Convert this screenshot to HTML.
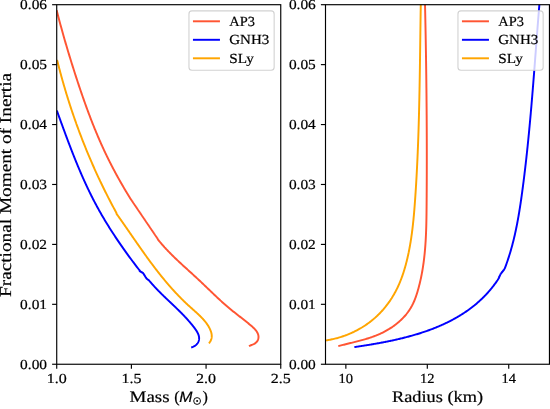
<!DOCTYPE html>
<html><head><meta charset="utf-8"><style>
html,body{margin:0;padding:0;background:#fff;}
svg{display:block;will-change:transform;}
text{fill:#000;text-rendering:geometricPrecision;stroke:#000;stroke-width:0.2px;}
</style></head><body>
<svg width="550" height="409" viewBox="0 0 550 409">
<rect x="0" y="0" width="550" height="409" fill="#ffffff"/>
<defs>
<clipPath id="cl"><rect x="56.72" y="4.7" width="224.03" height="359.55"/></clipPath>
<clipPath id="cr"><rect x="325.5" y="4.7" width="223.95000000000005" height="359.55"/></clipPath>
</defs>
<path d="M56.66,10.31 L56.91,11.30 L57.17,12.29 L57.42,13.28 L57.68,14.27 L57.94,15.26 L58.20,16.25 L58.46,17.24 L58.72,18.23 L58.98,19.22 L59.24,20.20 L59.50,21.19 L59.77,22.18 L60.04,23.17 L60.30,24.15 L60.57,25.14 L60.84,26.13 L61.11,27.11 L61.38,28.10 L61.65,29.09 L61.93,30.07 L62.20,31.06 L62.47,32.04 L62.75,33.03 L63.03,34.01 L63.30,35.00 L63.58,35.98 L63.86,36.97 L64.14,37.95 L64.43,38.94 L64.71,39.92 L64.99,40.90 L65.28,41.89 L65.56,42.87 L65.85,43.85 L66.14,44.83 L66.43,45.81 L66.72,46.80 L67.01,47.78 L67.30,48.76 L67.59,49.74 L67.88,50.72 L68.18,51.70 L68.47,52.68 L68.77,53.66 L69.06,54.64 L69.36,55.62 L69.66,56.60 L69.96,57.58 L70.26,58.56 L70.56,59.54 L70.86,60.51 L71.17,61.49 L71.47,62.47 L71.77,63.45 L72.08,64.42 L72.39,65.40 L72.69,66.38 L73.00,67.35 L73.31,68.33 L73.62,69.31 L73.93,70.28 L74.24,71.26 L74.56,72.23 L74.87,73.21 L75.18,74.18 L75.50,75.15 L75.81,76.13 L76.13,77.10 L76.45,78.07 L76.76,79.05 L77.08,80.02 L77.40,80.99 L77.72,81.96 L78.04,82.94 L78.37,83.91 L78.69,84.88 L79.01,85.85 L79.34,86.82 L79.66,87.79 L79.99,88.76 L80.32,89.73 L80.65,90.70 L80.98,91.66 L81.31,92.63 L81.64,93.60 L81.97,94.57 L82.31,95.53 L82.64,96.50 L82.98,97.47 L83.32,98.43 L83.65,99.40 L83.99,100.36 L84.33,101.32 L84.68,102.29 L85.02,103.25 L85.36,104.21 L85.71,105.18 L86.06,106.14 L86.41,107.10 L86.76,108.06 L87.11,109.02 L87.46,109.98 L87.81,110.94 L88.17,111.89 L88.53,112.85 L88.88,113.81 L89.24,114.76 L89.61,115.72 L89.97,116.67 L90.33,117.63 L90.70,118.58 L91.07,119.53 L91.44,120.49 L91.81,121.44 L92.18,122.39 L92.55,123.34 L92.93,124.29 L93.31,125.24 L93.69,126.18 L94.07,127.13 L94.45,128.08 L94.83,129.02 L95.22,129.97 L95.61,130.91 L96.00,131.86 L96.39,132.80 L96.78,133.74 L97.18,134.68 L97.58,135.62 L97.98,136.56 L98.38,137.50 L98.78,138.44 L99.19,139.37 L99.60,140.31 L100.01,141.25 L100.42,142.18 L100.83,143.11 L101.25,144.04 L101.67,144.98 L102.09,145.91 L102.51,146.84 L102.93,147.76 L103.36,148.69 L103.79,149.62 L104.22,150.54 L104.66,151.47 L105.09,152.39 L105.53,153.31 L105.97,154.24 L106.41,155.16 L106.86,156.08 L107.31,157.00 L107.76,157.91 L108.21,158.83 L108.66,159.75 L109.12,160.66 L109.58,161.57 L110.04,162.49 L110.50,163.40 L110.96,164.31 L111.43,165.22 L111.90,166.13 L112.37,167.03 L112.84,167.94 L113.32,168.85 L113.80,169.75 L114.28,170.66 L114.76,171.56 L115.24,172.46 L115.73,173.36 L116.22,174.26 L116.71,175.16 L117.20,176.06 L117.69,176.95 L118.19,177.85 L118.69,178.74 L119.19,179.63 L119.69,180.53 L120.20,181.42 L120.70,182.31 L121.21,183.20 L121.72,184.09 L122.23,184.97 L122.75,185.86 L123.26,186.74 L123.78,187.63 L124.30,188.51 L124.82,189.39 L125.35,190.27 L125.87,191.15 L126.40,192.03 L126.93,192.91 L127.46,193.79 L128.00,194.66 L128.53,195.54 L129.07,196.41 L129.61,197.28 L130.15,198.16 L130.69,199.03 L130.84,199.20 L130.97,199.40 L131.11,199.60 L131.24,199.80 L131.38,200.00 L131.51,200.20 L131.65,200.40 L131.79,200.60 L131.92,200.80 L132.06,201.00 L132.19,201.20 L132.33,201.40 L132.46,201.60 L132.60,201.80 L132.74,202.00 L132.87,202.20 L133.01,202.40 L133.14,202.60 L133.28,202.80 L133.41,203.00 L133.55,203.20 L133.68,203.40 L133.82,203.60 L133.96,203.80 L134.09,204.00 L134.23,204.20 L134.36,204.40 L134.50,204.60 L134.63,204.80 L134.77,205.00 L134.91,205.20 L135.04,205.40 L135.18,205.60 L135.31,205.80 L135.45,206.00 L135.58,206.20 L135.72,206.40 L135.86,206.60 L135.99,206.80 L136.13,207.00 L136.26,207.20 L136.40,207.40 L136.53,207.60 L136.67,207.80 L136.81,208.00 L136.94,208.20 L137.08,208.40 L137.21,208.60 L137.35,208.80 L137.48,209.00 L137.62,209.20 L137.76,209.40 L137.89,209.60 L138.03,209.80 L138.16,210.00 L138.30,210.20 L138.43,210.40 L138.57,210.60 L138.71,210.80 L138.84,211.00 L138.98,211.20 L139.11,211.40 L139.25,211.60 L139.38,211.80 L139.52,212.00 L139.65,212.20 L139.79,212.40 L139.93,212.60 L140.06,212.80 L140.20,213.00 L140.33,213.20 L140.47,213.40 L140.60,213.60 L140.74,213.80 L140.88,214.00 L141.01,214.20 L141.15,214.40 L141.28,214.60 L141.42,214.80 L141.55,215.00 L141.69,215.20 L141.83,215.40 L141.96,215.60 L142.10,215.80 L142.23,216.00 L142.37,216.20 L142.50,216.40 L142.64,216.60 L142.78,216.80 L142.91,217.00 L143.05,217.20 L143.18,217.40 L143.32,217.60 L143.45,217.80 L143.59,218.00 L143.73,218.20 L143.86,218.40 L144.00,218.60 L144.13,218.80 L144.27,219.00 L144.40,219.20 L144.54,219.40 L144.67,219.60 L144.81,219.80 L144.95,220.00 L145.08,220.20 L145.22,220.40 L145.35,220.60 L145.49,220.80 L145.62,221.00 L145.76,221.20 L145.90,221.40 L146.03,221.60 L146.17,221.80 L146.30,222.00 L146.44,222.20 L146.57,222.40 L146.71,222.60 L146.85,222.80 L146.98,223.00 L147.12,223.20 L147.25,223.40 L147.39,223.60 L147.52,223.80 L147.66,224.00 L147.80,224.20 L147.93,224.40 L148.07,224.60 L148.20,224.80 L148.34,225.00 L148.47,225.20 L148.61,225.40 L148.75,225.60 L148.88,225.80 L149.02,226.00 L149.15,226.20 L149.29,226.40 L149.42,226.60 L149.56,226.80 L149.69,227.00 L149.83,227.20 L149.97,227.40 L150.10,227.60 L150.24,227.80 L150.37,228.00 L150.51,228.20 L150.64,228.40 L150.78,228.60 L150.92,228.80 L151.05,229.00 L151.19,229.20 L151.32,229.40 L151.46,229.60 L151.59,229.80 L151.73,230.00 L151.87,230.20 L152.00,230.40 L152.14,230.60 L152.27,230.80 L152.41,231.00 L152.54,231.20 L152.68,231.40 L152.82,231.60 L152.95,231.80 L153.09,232.00 L153.22,232.20 L153.36,232.40 L153.49,232.60 L153.63,232.80 L153.77,233.00 L153.90,233.20 L154.04,233.40 L154.17,233.60 L154.31,233.80 L154.44,234.00 L154.58,234.20 L154.72,234.40 L154.85,234.60 L154.99,234.80 L155.12,235.00 L155.26,235.20 L155.39,235.40 L155.53,235.60 L155.66,235.80 L155.80,236.00 L155.94,236.20 L156.07,236.40 L156.21,236.60 L156.34,236.80 L156.48,237.00 L156.61,237.20 L156.75,237.40 L156.89,237.60 L157.02,237.80 L157.16,238.00 L157.29,238.20 L157.43,238.40 L157.56,238.60 L157.70,238.80 L157.98,239.55 L158.47,240.17 L158.97,240.78 L159.47,241.39 L159.97,242.00 L160.48,242.60 L160.99,243.20 L161.50,243.80 L162.01,244.39 L162.53,244.99 L163.04,245.58 L163.56,246.16 L164.09,246.74 L164.61,247.33 L165.14,247.90 L165.67,248.48 L166.20,249.05 L166.74,249.62 L167.27,250.19 L167.81,250.76 L168.35,251.32 L168.89,251.88 L169.44,252.44 L169.98,253.00 L170.53,253.55 L171.08,254.11 L171.63,254.66 L172.18,255.21 L172.74,255.76 L173.30,256.30 L173.85,256.85 L174.41,257.39 L174.97,257.93 L175.53,258.47 L176.10,259.01 L176.66,259.55 L177.23,260.09 L177.79,260.62 L178.36,261.16 L178.93,261.69 L179.50,262.22 L180.07,262.76 L180.64,263.29 L181.22,263.82 L181.79,264.35 L182.36,264.88 L182.94,265.40 L183.52,265.93 L184.09,266.46 L184.67,266.99 L185.25,267.51 L185.82,268.04 L186.40,268.57 L186.98,269.09 L187.56,269.62 L188.14,270.14 L188.72,270.67 L189.30,271.20 L189.88,271.72 L190.46,272.25 L191.04,272.78 L191.62,273.31 L192.20,273.83 L192.78,274.36 L193.36,274.89 L193.94,275.42 L194.52,275.95 L195.10,276.49 L195.68,277.02 L196.26,277.55 L196.84,278.09 L197.42,278.62 L197.99,279.16 L198.57,279.70 L199.15,280.24 L199.72,280.78 L200.30,281.32 L200.87,281.86 L201.45,282.40 L202.02,282.95 L202.59,283.49 L203.17,284.04 L203.74,284.59 L204.31,285.13 L204.88,285.68 L205.45,286.23 L206.02,286.78 L206.59,287.33 L207.17,287.88 L207.74,288.43 L208.31,288.97 L208.88,289.52 L209.45,290.07 L210.02,290.62 L210.59,291.17 L211.16,291.72 L211.73,292.26 L212.30,292.81 L212.87,293.36 L213.44,293.90 L214.01,294.45 L214.58,294.99 L215.15,295.53 L215.72,296.07 L216.30,296.61 L216.87,297.15 L217.44,297.69 L218.01,298.23 L218.59,298.76 L219.16,299.29 L219.74,299.82 L220.31,300.35 L220.89,300.88 L221.46,301.41 L222.04,301.93 L222.62,302.45 L223.20,302.97 L223.78,303.49 L224.36,304.00 L224.94,304.51 L225.52,305.02 L226.10,305.53 L226.69,306.03 L227.27,306.53 L227.86,307.03 L228.45,307.53 L229.03,308.02 L229.62,308.51 L230.21,309.00 L230.81,309.48 L231.40,309.96 L231.99,310.44 L232.59,310.92 L233.18,311.40 L233.78,311.88 L234.38,312.35 L234.98,312.83 L235.59,313.30 L236.19,313.78 L236.80,314.25 L237.40,314.73 L238.01,315.20 L238.62,315.68 L239.23,316.16 L239.85,316.63 L240.46,317.11 L241.08,317.60 L241.70,318.08 L242.32,318.57 L242.95,319.06 L243.57,319.55 L244.20,320.05 L244.83,320.55 L245.46,321.05 L246.10,321.56 L246.73,322.07 L247.37,322.58 L248.01,323.10 L248.66,323.63 L249.30,324.16 L249.95,324.69 L250.60,325.23 L251.24,325.78 L251.88,326.33 L252.51,326.89 L253.12,327.46 L253.72,328.03 L254.30,328.62 L254.85,329.21 L255.38,329.80 L255.88,330.41 L256.35,331.03 L256.78,331.65 L257.17,332.28 L257.51,332.93 L257.81,333.58 L258.07,334.25 L258.26,334.92 L258.41,335.61 L258.49,336.31 L258.51,337.01 L258.47,337.72 L258.36,338.43 L258.19,339.13 L257.95,339.82 L257.64,340.49 L257.26,341.14 L256.81,341.75 L256.28,342.33 L255.68,342.88 L255.01,343.37 L254.26,343.82 L253.45,344.22 L252.62,344.58 L251.78,344.91 L250.97,345.23 L250.23,345.54 L249.56,345.84 L249.02,346.16" fill="none" stroke="#ff5533" stroke-width="1.95" stroke-linejoin="round" stroke-linecap="butt" clip-path="url(#cl)"/>
<path d="M56.80,110.46 L57.11,111.32 L57.42,112.18 L57.73,113.03 L58.04,113.89 L58.35,114.75 L58.66,115.60 L58.97,116.46 L59.28,117.32 L59.59,118.18 L59.91,119.03 L60.22,119.89 L60.53,120.75 L60.84,121.61 L61.15,122.46 L61.47,123.32 L61.78,124.18 L62.09,125.04 L62.40,125.90 L62.72,126.75 L63.03,127.61 L63.35,128.47 L63.66,129.33 L63.98,130.19 L64.29,131.04 L64.61,131.90 L64.93,132.76 L65.24,133.62 L65.56,134.48 L65.88,135.33 L66.20,136.19 L66.52,137.05 L66.84,137.91 L67.16,138.76 L67.48,139.62 L67.80,140.48 L68.13,141.33 L68.45,142.19 L68.77,143.04 L69.10,143.90 L69.42,144.75 L69.75,145.61 L70.08,146.46 L70.41,147.32 L70.74,148.17 L71.07,149.03 L71.40,149.88 L71.73,150.73 L72.06,151.59 L72.39,152.44 L72.73,153.29 L73.06,154.14 L73.40,154.99 L73.74,155.84 L74.08,156.70 L74.42,157.55 L74.76,158.39 L75.10,159.24 L75.44,160.09 L75.78,160.94 L76.13,161.79 L76.47,162.63 L76.82,163.48 L77.17,164.33 L77.52,165.17 L77.87,166.02 L78.22,166.86 L78.58,167.70 L78.93,168.55 L79.29,169.39 L79.64,170.23 L80.00,171.07 L80.36,171.91 L80.72,172.75 L81.09,173.59 L81.45,174.43 L81.82,175.27 L82.18,176.10 L82.55,176.94 L82.92,177.78 L83.29,178.61 L83.67,179.44 L84.04,180.28 L84.42,181.11 L84.80,181.94 L85.17,182.77 L85.56,183.60 L85.94,184.43 L86.32,185.26 L86.71,186.08 L87.10,186.91 L87.49,187.74 L87.88,188.56 L88.27,189.38 L88.66,190.21 L89.06,191.03 L89.46,191.85 L89.86,192.67 L90.26,193.49 L90.66,194.30 L91.07,195.12 L91.48,195.94 L91.89,196.75 L92.30,197.56 L92.71,198.38 L93.13,199.19 L93.55,200.00 L93.96,200.81 L94.39,201.61 L94.81,202.42 L95.24,203.23 L95.66,204.03 L96.09,204.83 L96.52,205.64 L96.96,206.44 L97.39,207.24 L97.83,208.04 L98.27,208.83 L98.71,209.63 L99.16,210.43 L99.60,211.22 L100.05,212.01 L100.50,212.80 L100.95,213.60 L101.41,214.39 L101.86,215.17 L102.32,215.96 L102.78,216.75 L103.24,217.53 L103.70,218.32 L104.17,219.10 L104.63,219.89 L105.10,220.67 L105.57,221.45 L106.04,222.23 L106.52,223.00 L106.99,223.78 L107.47,224.56 L107.95,225.33 L108.43,226.11 L108.91,226.88 L109.40,227.65 L109.88,228.43 L110.37,229.20 L110.86,229.96 L111.35,230.73 L111.84,231.50 L112.34,232.27 L112.83,233.03 L113.33,233.80 L113.83,234.56 L114.33,235.32 L114.83,236.09 L115.34,236.85 L115.84,237.61 L116.35,238.36 L116.86,239.12 L117.37,239.88 L117.88,240.64 L118.39,241.39 L118.91,242.15 L119.42,242.90 L119.94,243.65 L120.46,244.40 L120.98,245.15 L121.50,245.91 L122.02,246.65 L122.55,247.40 L123.07,248.15 L123.60,248.90 L124.13,249.64 L124.66,250.39 L125.19,251.13 L125.72,251.88 L126.25,252.62 L126.79,253.36 L127.33,254.10 L127.86,254.84 L128.40,255.58 L128.94,256.32 L129.48,257.06 L130.03,257.79 L130.57,258.53 L131.11,259.26 L131.66,260.00 L132.21,260.73 L132.75,261.47 L133.30,262.20 L133.85,262.93 L134.41,263.66 L134.96,264.39 L135.51,265.12 L136.07,265.85 L136.62,266.58 L137.18,267.30 L137.74,268.03 L138.30,268.76 L138.86,269.48 L139.42,270.21 L139.98,270.93 L139.72,271.11 L139.73,271.12 L139.75,271.13 L139.77,271.14 L139.79,271.15 L139.80,271.16 L139.82,271.17 L139.84,271.18 L139.85,271.19 L139.87,271.20 L139.89,271.21 L139.91,271.22 L139.92,271.23 L139.94,271.24 L139.96,271.25 L139.97,271.26 L139.99,271.27 L140.01,271.28 L140.02,271.29 L140.04,271.30 L140.06,271.31 L140.08,271.32 L140.09,271.33 L140.11,271.34 L140.13,271.35 L140.14,271.36 L140.16,271.37 L140.18,271.38 L140.20,271.39 L140.21,271.40 L140.23,271.41 L140.25,271.42 L140.26,271.43 L140.28,271.44 L140.30,271.45 L140.32,271.46 L140.33,271.47 L140.35,271.48 L140.37,271.49 L140.38,271.50 L140.40,271.51 L140.42,271.52 L140.43,271.53 L140.45,271.54 L140.47,271.55 L140.49,271.56 L140.50,271.57 L140.52,271.58 L140.54,271.59 L140.55,271.60 L140.57,271.61 L140.59,271.62 L140.61,271.63 L140.62,271.64 L140.64,271.65 L140.66,271.66 L140.67,271.67 L140.69,271.68 L140.71,271.69 L140.73,271.70 L140.74,271.71 L140.76,271.72 L140.78,271.73 L140.79,271.74 L140.81,271.75 L140.83,271.76 L140.84,271.77 L140.86,271.78 L140.88,271.79 L140.90,271.80 L140.91,271.81 L140.93,271.82 L140.95,271.83 L140.96,271.84 L140.98,271.85 L141.00,271.86 L141.02,271.87 L141.03,271.88 L141.05,271.89 L141.07,271.90 L141.08,271.91 L141.10,271.92 L141.12,271.93 L141.14,271.94 L141.15,271.95 L141.17,271.96 L141.19,271.97 L141.20,271.98 L141.22,271.99 L141.24,272.00 L141.25,272.01 L141.27,272.02 L141.29,272.03 L141.31,272.04 L141.32,272.05 L141.34,272.06 L141.36,272.07 L141.37,272.08 L141.39,272.09 L141.41,272.11 L141.43,272.12 L141.44,272.13 L141.46,272.14 L141.48,272.15 L141.49,272.16 L141.51,272.17 L141.53,272.18 L141.55,272.19 L141.56,272.20 L141.58,272.21 L141.60,272.22 L141.61,272.23 L141.63,272.24 L141.65,272.25 L141.66,272.26 L141.68,272.27 L141.70,272.28 L141.72,272.29 L141.73,272.30 L141.75,272.31 L141.77,272.32 L141.78,272.33 L141.80,272.34 L141.82,272.35 L141.84,272.36 L141.85,272.37 L141.87,272.38 L141.89,272.39 L141.90,272.40 L141.92,272.41 L141.94,272.42 L141.96,272.43 L141.97,272.44 L141.99,272.45 L142.01,272.46 L142.02,272.47 L142.04,272.48 L142.06,272.49 L142.07,272.50 L142.09,272.51 L142.11,272.52 L142.13,272.53 L142.14,272.54 L142.16,272.55 L142.18,272.56 L142.19,272.57 L142.21,272.58 L142.23,272.59 L142.25,272.60 L142.26,272.61 L142.28,272.62 L142.30,272.63 L142.31,272.64 L142.33,272.65 L142.35,272.66 L142.37,272.67 L142.38,272.68 L142.40,272.69 L142.42,272.70 L142.43,272.71 L142.45,272.72 L142.47,272.73 L142.48,272.74 L142.50,272.75 L142.52,272.76 L142.54,272.77 L142.55,272.78 L142.57,272.79 L142.59,272.80 L142.60,272.81 L142.62,272.82 L142.64,272.83 L142.66,272.84 L142.67,272.85 L142.69,272.86 L142.71,272.87 L142.72,272.88 L142.74,272.89 L142.76,272.90 L142.78,272.91 L142.79,272.92 L142.81,272.93 L142.83,272.94 L142.84,272.95 L142.86,272.96 L142.88,272.97 L142.89,272.98 L142.91,272.99 L142.93,273.00 L142.95,273.01 L142.96,273.02 L142.98,273.03 L143.00,273.04 L143.01,273.05 L143.03,273.06 L143.05,273.07 L143.07,273.08 L143.08,273.09 L143.10,273.10 L143.12,273.13 L143.13,273.15 L143.15,273.18 L143.17,273.21 L143.19,273.24 L143.20,273.26 L143.22,273.29 L143.24,273.32 L143.25,273.34 L143.27,273.37 L143.29,273.40 L143.31,273.43 L143.32,273.45 L143.34,273.48 L143.36,273.51 L143.37,273.53 L143.39,273.56 L143.41,273.59 L143.42,273.62 L143.44,273.64 L143.46,273.67 L143.48,273.70 L143.49,273.72 L143.51,273.75 L143.53,273.78 L143.54,273.81 L143.56,273.83 L143.58,273.86 L143.60,273.89 L143.61,273.91 L143.63,273.94 L143.65,273.97 L143.66,274.00 L143.68,274.02 L143.70,274.05 L143.72,274.08 L143.73,274.10 L143.75,274.13 L143.77,274.16 L143.78,274.19 L143.80,274.21 L143.82,274.24 L143.83,274.27 L143.85,274.29 L143.87,274.32 L143.89,274.35 L143.90,274.38 L143.92,274.40 L143.94,274.43 L143.95,274.46 L143.97,274.48 L143.99,274.51 L144.01,274.54 L144.02,274.57 L144.04,274.59 L144.06,274.62 L144.07,274.65 L144.09,274.67 L144.11,274.70 L144.13,274.73 L144.14,274.76 L144.16,274.78 L144.18,274.81 L144.19,274.84 L144.21,274.86 L144.23,274.89 L144.24,274.92 L144.26,274.95 L144.28,274.97 L144.30,275.00 L144.31,275.03 L144.33,275.05 L144.35,275.08 L144.36,275.11 L144.38,275.14 L144.40,275.16 L144.42,275.19 L144.43,275.22 L144.45,275.24 L144.47,275.27 L144.48,275.30 L144.50,275.33 L144.52,275.35 L144.54,275.38 L144.55,275.41 L144.57,275.43 L144.59,275.46 L144.60,275.49 L144.62,275.52 L144.64,275.54 L144.65,275.57 L144.67,275.60 L144.69,275.62 L144.71,275.65 L144.72,275.68 L144.74,275.71 L144.76,275.73 L144.77,275.76 L144.79,275.79 L144.81,275.81 L144.83,275.84 L144.84,275.87 L144.86,275.89 L144.88,275.92 L144.89,275.95 L144.91,275.98 L144.93,276.00 L144.95,276.03 L144.96,276.06 L144.98,276.08 L145.00,276.11 L145.01,276.14 L145.03,276.17 L145.05,276.19 L145.06,276.22 L145.08,276.25 L145.10,276.27 L145.12,276.30 L145.13,276.33 L145.15,276.36 L145.17,276.38 L145.18,276.41 L145.20,276.44 L145.22,276.46 L145.24,276.49 L145.25,276.52 L145.27,276.55 L145.29,276.57 L145.30,276.60 L145.32,276.63 L145.34,276.65 L145.36,276.68 L145.37,276.71 L145.39,276.74 L145.41,276.76 L145.42,276.79 L145.44,276.82 L145.46,276.84 L145.47,276.87 L145.49,276.90 L145.51,276.93 L145.53,276.95 L145.54,276.98 L145.56,277.01 L145.58,277.03 L145.59,277.06 L145.61,277.09 L145.63,277.12 L145.65,277.14 L145.66,277.17 L145.68,277.20 L145.70,277.22 L145.71,277.25 L145.73,277.28 L145.75,277.31 L145.77,277.33 L145.78,277.36 L145.80,277.39 L145.82,277.41 L145.83,277.44 L145.85,277.47 L145.87,277.50 L145.88,277.52 L145.90,277.55 L145.92,277.58 L145.94,277.60 L145.95,277.63 L145.97,277.66 L145.99,277.69 L146.00,277.71 L146.02,277.74 L146.04,277.77 L146.06,277.79 L146.07,277.82 L146.09,277.85 L146.11,277.88 L146.12,277.90 L146.14,277.93 L146.16,277.96 L146.18,277.98 L146.19,278.01 L146.21,278.04 L146.23,278.07 L146.24,278.09 L146.26,278.12 L146.28,278.15 L146.29,278.17 L146.31,278.20 L146.33,278.23 L146.35,278.26 L146.36,278.28 L146.38,278.31 L146.40,278.34 L146.41,278.36 L146.43,278.39 L146.45,278.42 L146.47,278.45 L146.48,278.47 L146.50,278.50 L146.51,278.51 L146.53,278.52 L146.54,278.53 L146.55,278.54 L146.56,278.55 L146.58,278.56 L146.59,278.57 L146.60,278.58 L146.61,278.59 L146.63,278.60 L146.64,278.61 L146.65,278.61 L146.66,278.62 L146.68,278.63 L146.69,278.64 L146.70,278.65 L146.71,278.66 L146.73,278.67 L146.74,278.68 L146.75,278.69 L146.76,278.70 L146.78,278.71 L146.79,278.72 L146.80,278.73 L146.81,278.74 L146.83,278.75 L146.84,278.76 L146.85,278.77 L146.86,278.78 L146.88,278.79 L146.89,278.80 L146.90,278.81 L146.91,278.82 L146.93,278.82 L146.94,278.83 L146.95,278.84 L146.96,278.85 L146.98,278.86 L146.99,278.87 L147.00,278.88 L147.02,278.89 L147.03,278.90 L147.04,278.91 L147.05,278.92 L147.07,278.93 L147.08,278.94 L147.09,278.95 L147.10,278.96 L147.12,278.97 L147.13,278.98 L147.14,278.99 L147.15,279.00 L147.17,279.01 L147.18,279.02 L147.19,279.03 L147.20,279.03 L147.22,279.04 L147.23,279.05 L147.24,279.06 L147.25,279.07 L147.27,279.08 L147.28,279.09 L147.29,279.10 L147.30,279.11 L147.32,279.12 L147.33,279.13 L147.34,279.14 L147.35,279.15 L147.37,279.16 L147.38,279.17 L147.39,279.18 L147.40,279.19 L147.42,279.20 L147.43,279.21 L147.44,279.22 L147.45,279.23 L147.47,279.24 L147.48,279.24 L147.49,279.25 L147.51,279.26 L147.52,279.27 L147.53,279.28 L147.54,279.29 L147.56,279.30 L147.57,279.31 L147.58,279.32 L147.59,279.33 L147.61,279.34 L147.62,279.35 L147.63,279.36 L147.64,279.37 L147.66,279.38 L147.67,279.39 L147.68,279.40 L147.69,279.41 L147.71,279.42 L147.72,279.43 L147.73,279.44 L147.74,279.45 L147.76,279.45 L147.77,279.46 L147.78,279.47 L147.79,279.48 L147.81,279.49 L147.82,279.50 L147.83,279.51 L147.84,279.52 L147.86,279.53 L147.87,279.54 L147.88,279.55 L147.89,279.56 L147.91,279.57 L147.92,279.58 L147.93,279.59 L147.94,279.60 L147.96,279.61 L147.97,279.62 L147.98,279.63 L147.99,279.64 L148.01,279.65 L148.02,279.66 L148.03,279.66 L148.05,279.67 L148.06,279.68 L148.07,279.69 L148.08,279.70 L148.10,279.71 L148.11,279.72 L148.12,279.73 L148.13,279.74 L148.15,279.75 L148.16,279.76 L148.17,279.77 L148.18,279.78 L148.20,279.79 L148.21,279.80 L148.22,279.81 L148.23,279.82 L148.25,279.83 L148.26,279.84 L148.27,279.85 L148.28,279.86 L148.30,279.87 L148.31,279.87 L148.32,279.88 L148.33,279.89 L148.35,279.90 L148.36,279.91 L148.37,279.92 L148.38,279.93 L148.40,279.94 L148.41,279.95 L148.42,279.96 L148.43,279.97 L148.45,279.98 L148.46,279.99 L148.47,280.00 L148.48,280.01 L148.50,280.02 L148.51,280.03 L148.52,280.04 L148.54,280.05 L148.55,280.06 L148.56,280.07 L148.57,280.08 L148.59,280.08 L148.60,280.09 L148.61,280.10 L148.62,280.11 L148.64,280.12 L148.65,280.13 L148.66,280.14 L148.67,280.15 L148.69,280.16 L148.70,280.17 L148.71,280.18 L148.72,280.19 L148.74,280.20 L148.75,280.21 L148.76,280.22 L148.77,280.23 L148.79,280.24 L148.80,280.25 L148.81,280.26 L148.82,280.27 L148.84,280.28 L148.85,280.29 L148.86,280.29 L148.87,280.30 L148.89,280.31 L148.90,280.32 L148.91,280.33 L148.92,280.34 L148.94,280.35 L148.95,280.36 L148.96,280.37 L148.97,280.38 L148.99,280.39 L149.00,280.40 L149.27,280.72 L149.57,281.08 L149.88,281.43 L150.18,281.79 L150.48,282.15 L150.78,282.50 L151.09,282.85 L151.39,283.20 L151.70,283.55 L152.01,283.90 L152.31,284.25 L152.62,284.59 L152.93,284.94 L153.24,285.28 L153.55,285.62 L153.86,285.96 L154.17,286.30 L154.48,286.64 L154.79,286.98 L155.11,287.31 L155.42,287.65 L155.73,287.98 L156.05,288.32 L156.36,288.65 L156.68,288.98 L157.00,289.31 L157.31,289.64 L157.63,289.96 L157.95,290.29 L158.26,290.62 L158.58,290.94 L158.90,291.27 L159.22,291.59 L159.54,291.91 L159.86,292.23 L160.18,292.55 L160.50,292.87 L160.82,293.19 L161.15,293.51 L161.47,293.83 L161.79,294.15 L162.11,294.47 L162.44,294.78 L162.76,295.10 L163.08,295.41 L163.41,295.73 L163.73,296.04 L164.05,296.36 L164.38,296.67 L164.70,296.98 L165.03,297.29 L165.35,297.61 L165.68,297.92 L166.00,298.23 L166.33,298.54 L166.65,298.85 L166.98,299.16 L167.31,299.47 L167.63,299.78 L167.96,300.09 L168.28,300.40 L168.61,300.71 L168.94,301.02 L169.26,301.33 L169.59,301.64 L169.92,301.95 L170.24,302.26 L170.57,302.57 L170.89,302.87 L171.22,303.18 L171.55,303.49 L171.87,303.80 L172.20,304.11 L172.53,304.42 L172.85,304.73 L173.18,305.04 L173.50,305.35 L173.83,305.66 L174.15,305.97 L174.48,306.28 L174.80,306.59 L175.13,306.91 L175.45,307.22 L175.78,307.53 L176.10,307.84 L176.42,308.16 L176.75,308.47 L177.07,308.78 L177.39,309.10 L177.72,309.41 L178.04,309.73 L178.36,310.04 L178.68,310.36 L179.01,310.68 L179.33,310.99 L179.65,311.31 L179.97,311.63 L180.29,311.95 L180.61,312.27 L180.93,312.59 L181.25,312.92 L181.56,313.24 L181.88,313.56 L182.20,313.89 L182.52,314.21 L182.83,314.54 L183.15,314.86 L183.47,315.19 L183.78,315.52 L184.09,315.85 L184.41,316.18 L184.72,316.51 L185.03,316.85 L185.35,317.18 L185.66,317.52 L185.97,317.85 L186.28,318.19 L186.59,318.53 L186.90,318.87 L187.21,319.21 L187.51,319.55 L187.82,319.90 L188.13,320.24 L188.43,320.59 L188.74,320.93 L189.04,321.28 L189.35,321.63 L189.65,321.98 L189.95,322.34 L190.25,322.69 L190.55,323.05 L190.85,323.40 L191.15,323.76 L191.45,324.12 L191.74,324.48 L192.04,324.85 L192.34,325.21 L192.63,325.58 L192.92,325.95 L193.22,326.32 L193.51,326.69 L193.80,327.06 L194.09,327.44 L194.37,327.81 L194.66,328.19 L194.94,328.57 L195.21,328.95 L195.48,329.34 L195.75,329.72 L196.01,330.10 L196.26,330.49 L196.51,330.88 L196.75,331.27 L196.98,331.66 L197.21,332.05 L197.42,332.44 L197.62,332.83 L197.82,333.23 L198.00,333.62 L198.17,334.01 L198.33,334.41 L198.47,334.81 L198.61,335.20 L198.72,335.60 L198.83,336.00 L198.92,336.40 L198.99,336.79 L199.05,337.19 L199.09,337.59 L199.11,337.99 L199.11,338.39 L199.10,338.79 L199.07,339.19 L199.02,339.59 L198.95,339.98 L198.86,340.37 L198.75,340.76 L198.63,341.15 L198.48,341.53 L198.32,341.91 L198.13,342.28 L197.93,342.65 L197.70,343.01 L197.45,343.36 L197.19,343.70 L196.90,344.04 L196.59,344.37 L196.26,344.69 L195.91,345.00 L195.54,345.31 L195.15,345.60 L194.73,345.88 L194.29,346.14 L193.83,346.40 L193.35,346.64 L192.85,346.87 L192.32,347.09 L191.77,347.29 L191.19,347.48" fill="none" stroke="#0000ff" stroke-width="1.95" stroke-linejoin="round" stroke-linecap="butt" clip-path="url(#cl)"/>
<path d="M57.08,59.88 L57.28,60.68 L57.48,61.49 L57.68,62.29 L57.88,63.09 L58.09,63.90 L58.29,64.70 L58.50,65.50 L58.70,66.30 L58.91,67.11 L59.12,67.91 L59.33,68.71 L59.54,69.51 L59.75,70.31 L59.96,71.11 L60.17,71.91 L60.39,72.71 L60.60,73.51 L60.82,74.31 L61.03,75.11 L61.25,75.91 L61.47,76.71 L61.69,77.50 L61.91,78.30 L62.13,79.10 L62.36,79.90 L62.58,80.69 L62.81,81.49 L63.03,82.29 L63.26,83.08 L63.49,83.88 L63.72,84.68 L63.95,85.47 L64.18,86.27 L64.41,87.06 L64.64,87.85 L64.88,88.65 L65.11,89.44 L65.35,90.24 L65.58,91.03 L65.82,91.82 L66.06,92.61 L66.30,93.41 L66.54,94.20 L66.79,94.99 L67.03,95.78 L67.27,96.57 L67.52,97.36 L67.76,98.15 L68.01,98.94 L68.26,99.73 L68.51,100.52 L68.76,101.31 L69.01,102.10 L69.26,102.89 L69.52,103.67 L69.77,104.46 L70.03,105.25 L70.28,106.04 L70.54,106.82 L70.80,107.61 L71.06,108.39 L71.32,109.18 L71.58,109.96 L71.84,110.75 L72.10,111.53 L72.37,112.32 L72.63,113.10 L72.90,113.89 L73.17,114.67 L73.44,115.45 L73.71,116.23 L73.98,117.02 L74.25,117.80 L74.52,118.58 L74.79,119.36 L75.07,120.14 L75.34,120.92 L75.62,121.70 L75.90,122.48 L76.18,123.26 L76.45,124.04 L76.74,124.82 L77.02,125.59 L77.30,126.37 L77.58,127.15 L77.87,127.93 L78.15,128.70 L78.44,129.48 L78.73,130.25 L79.01,131.03 L79.30,131.80 L79.59,132.58 L79.89,133.35 L80.18,134.13 L80.47,134.90 L80.77,135.67 L81.06,136.45 L81.36,137.22 L81.66,137.99 L81.95,138.76 L82.25,139.53 L82.55,140.30 L82.86,141.07 L83.16,141.84 L83.46,142.61 L83.77,143.38 L84.07,144.15 L84.38,144.92 L84.69,145.69 L84.99,146.45 L85.30,147.22 L85.61,147.99 L85.93,148.75 L86.24,149.52 L86.55,150.28 L86.87,151.05 L87.18,151.81 L87.50,152.58 L87.82,153.34 L88.13,154.10 L88.45,154.87 L88.77,155.63 L89.10,156.39 L89.42,157.15 L89.74,157.91 L90.07,158.67 L90.39,159.43 L90.72,160.19 L91.04,160.95 L91.37,161.71 L91.70,162.47 L92.03,163.23 L92.36,163.99 L92.70,164.74 L93.03,165.50 L93.37,166.26 L93.70,167.01 L94.04,167.77 L94.37,168.52 L94.71,169.28 L95.05,170.03 L95.39,170.79 L95.73,171.54 L96.08,172.29 L96.42,173.04 L96.76,173.79 L97.11,174.55 L97.46,175.30 L97.80,176.05 L98.15,176.80 L98.50,177.55 L98.85,178.30 L99.20,179.04 L99.56,179.79 L99.91,180.54 L100.26,181.29 L100.62,182.03 L100.98,182.78 L101.33,183.53 L101.69,184.27 L102.05,185.02 L102.41,185.76 L102.77,186.50 L103.13,187.25 L103.50,187.99 L103.86,188.73 L104.23,189.47 L104.59,190.21 L104.96,190.96 L105.33,191.70 L105.70,192.44 L106.07,193.17 L106.44,193.91 L106.81,194.65 L107.19,195.39 L107.56,196.13 L107.94,196.86 L108.31,197.60 L108.69,198.34 L109.07,199.07 L109.45,199.81 L109.83,200.54 L110.21,201.27 L110.59,202.01 L110.97,202.74 L111.36,203.47 L111.74,204.20 L112.13,204.94 L112.52,205.67 L112.90,206.40 L113.29,207.13 L113.68,207.86 L114.07,208.58 L114.47,209.31 L114.86,210.04 L115.25,210.77 L115.65,211.49 L116.05,212.22 L116.44,212.95 L116.48,213.74 L116.97,214.43 L117.46,215.11 L117.95,215.80 L118.44,216.49 L118.93,217.18 L119.41,217.86 L119.90,218.55 L120.38,219.24 L120.86,219.92 L121.35,220.61 L121.83,221.30 L122.31,221.98 L122.79,222.67 L123.27,223.36 L123.75,224.05 L124.23,224.73 L124.71,225.42 L125.19,226.11 L125.66,226.79 L126.14,227.48 L126.62,228.17 L127.09,228.85 L127.57,229.54 L128.04,230.23 L128.52,230.91 L128.99,231.60 L129.47,232.28 L129.94,232.97 L130.41,233.65 L130.89,234.34 L131.36,235.02 L131.83,235.71 L132.31,236.39 L132.78,237.08 L133.25,237.76 L133.73,238.44 L134.20,239.13 L134.67,239.81 L135.15,240.49 L135.62,241.17 L136.09,241.85 L136.57,242.53 L137.04,243.21 L137.51,243.89 L137.99,244.57 L138.46,245.25 L138.94,245.93 L139.41,246.61 L139.89,247.29 L140.36,247.97 L140.84,248.64 L141.31,249.32 L141.79,249.99 L142.27,250.67 L142.75,251.34 L143.22,252.02 L143.70,252.69 L144.18,253.36 L144.66,254.04 L145.14,254.71 L145.63,255.38 L146.11,256.05 L146.59,256.72 L147.07,257.39 L147.56,258.06 L148.04,258.72 L148.53,259.39 L149.02,260.06 L149.50,260.72 L149.99,261.39 L150.48,262.05 L150.97,262.71 L151.47,263.37 L151.96,264.03 L152.45,264.69 L152.95,265.35 L153.44,266.01 L153.94,266.67 L154.44,267.33 L154.94,267.98 L155.44,268.64 L155.94,269.29 L156.44,269.95 L156.95,270.60 L157.45,271.25 L157.96,271.90 L158.47,272.55 L158.98,273.20 L159.49,273.84 L160.00,274.49 L160.52,275.13 L161.04,275.78 L161.55,276.42 L162.07,277.06 L162.59,277.70 L163.12,278.34 L163.64,278.98 L164.17,279.62 L164.69,280.26 L165.22,280.89 L165.75,281.52 L166.29,282.16 L166.82,282.79 L167.36,283.42 L167.90,284.05 L168.44,284.67 L168.98,285.30 L169.52,285.93 L170.07,286.55 L170.62,287.17 L171.17,287.79 L171.72,288.41 L172.28,289.03 L172.83,289.65 L173.39,290.26 L173.95,290.88 L174.52,291.49 L175.08,292.10 L175.65,292.71 L176.22,293.32 L176.79,293.93 L177.37,294.54 L177.95,295.14 L178.53,295.74 L179.11,296.34 L179.69,296.94 L180.28,297.54 L180.87,298.14 L181.46,298.73 L182.06,299.33 L182.66,299.92 L183.26,300.51 L183.86,301.10 L184.47,301.69 L185.07,302.27 L185.69,302.85 L186.30,303.44 L186.92,304.02 L187.54,304.60 L188.16,305.17 L188.78,305.75 L189.41,306.32 L190.04,306.89 L190.68,307.46 L191.31,308.03 L191.95,308.60 L192.59,309.17 L193.23,309.74 L193.86,310.30 L194.50,310.87 L195.13,311.44 L195.76,312.01 L196.39,312.58 L197.02,313.15 L197.64,313.73 L198.26,314.30 L198.87,314.88 L199.48,315.46 L200.08,316.05 L200.67,316.64 L201.26,317.23 L201.83,317.83 L202.40,318.43 L202.96,319.03 L203.51,319.64 L204.05,320.25 L204.58,320.87 L205.10,321.50 L205.60,322.13 L206.09,322.77 L206.57,323.42 L207.03,324.07 L207.48,324.73 L207.92,325.40 L208.34,326.07 L208.74,326.76 L209.12,327.45 L209.49,328.15 L209.84,328.86 L210.17,329.58 L210.48,330.31 L210.77,331.05 L211.02,331.79 L211.25,332.54 L211.43,333.30 L211.58,334.06 L211.69,334.82 L211.74,335.59 L211.75,336.36 L211.70,337.14 L211.60,337.91 L211.43,338.68 L211.20,339.45 L210.89,340.22 L210.52,340.99 L210.07,341.75 L209.53,342.51 L208.92,343.26" fill="none" stroke="#ffa500" stroke-width="1.95" stroke-linejoin="round" stroke-linecap="butt" clip-path="url(#cl)"/>
<path d="M338.29,346.15 L339.21,345.90 L340.13,345.65 L341.06,345.41 L341.99,345.17 L342.92,344.93 L343.85,344.69 L344.78,344.45 L345.72,344.22 L346.66,343.99 L347.61,343.75 L348.55,343.52 L349.50,343.29 L350.44,343.06 L351.39,342.83 L352.34,342.60 L353.29,342.36 L354.24,342.13 L355.19,341.89 L356.15,341.65 L357.10,341.41 L358.05,341.16 L359.00,340.92 L359.96,340.66 L360.91,340.41 L361.86,340.15 L362.81,339.89 L363.76,339.62 L364.71,339.35 L365.66,339.07 L366.60,338.78 L367.55,338.49 L368.49,338.20 L369.43,337.89 L370.37,337.58 L371.30,337.26 L372.24,336.94 L373.17,336.60 L374.09,336.26 L375.02,335.91 L375.94,335.55 L376.86,335.18 L377.77,334.81 L378.68,334.42 L379.59,334.02 L380.50,333.61 L381.39,333.19 L382.29,332.76 L383.18,332.32 L384.06,331.87 L384.94,331.40 L385.82,330.93 L386.68,330.45 L387.54,329.95 L388.40,329.45 L389.25,328.94 L390.09,328.41 L390.92,327.87 L391.75,327.33 L392.57,326.77 L393.38,326.20 L394.18,325.63 L394.97,325.04 L395.76,324.44 L396.53,323.84 L397.30,323.22 L398.06,322.59 L398.80,321.95 L399.54,321.30 L400.27,320.64 L400.98,319.98 L401.68,319.30 L402.38,318.61 L403.06,317.91 L403.73,317.20 L404.38,316.48 L405.03,315.75 L405.66,315.02 L406.28,314.27 L406.88,313.51 L407.47,312.74 L408.05,311.96 L408.62,311.18 L409.17,310.38 L409.70,309.57 L410.22,308.76 L410.73,307.93 L411.22,307.10 L411.69,306.25 L412.15,305.40 L412.59,304.53 L413.02,303.66 L413.43,302.78 L413.83,301.89 L414.22,300.99 L414.59,300.09 L414.95,299.18 L415.30,298.27 L415.64,297.35 L415.97,296.42 L416.29,295.49 L416.60,294.56 L416.90,293.62 L417.19,292.69 L417.48,291.74 L417.76,290.80 L418.03,289.85 L418.29,288.91 L418.55,287.96 L418.81,287.01 L419.06,286.06 L419.30,285.11 L419.54,284.16 L419.77,283.21 L420.00,282.26 L420.22,281.30 L420.44,280.35 L420.65,279.39 L420.86,278.43 L421.06,277.48 L421.26,276.52 L421.45,275.56 L421.64,274.60 L421.82,273.64 L422.00,272.68 L422.17,271.71 L422.34,270.75 L422.50,269.79 L422.66,268.82 L422.82,267.86 L422.97,266.89 L423.12,265.93 L423.26,264.96 L423.40,263.99 L423.53,263.02 L423.66,262.05 L423.79,261.08 L423.91,260.11 L424.03,259.14 L424.15,258.17 L424.26,257.20 L424.37,256.22 L424.47,255.25 L424.57,254.28 L424.67,253.30 L424.76,252.33 L424.85,251.35 L424.94,250.37 L425.03,249.40 L425.11,248.42 L425.19,247.44 L425.26,246.47 L425.34,245.49 L425.41,244.51 L425.47,243.53 L425.54,242.55 L425.60,241.57 L425.66,240.59 L425.71,239.61 L425.77,238.63 L425.82,237.65 L425.87,236.67 L425.92,235.68 L425.96,234.70 L426.00,233.72 L426.04,232.74 L426.08,231.75 L426.12,230.77 L426.15,229.79 L426.19,228.80 L426.22,227.82 L426.25,226.84 L426.28,225.85 L426.30,224.87 L426.33,223.88 L426.35,222.90 L426.37,221.91 L426.39,220.93 L426.41,219.94 L426.43,218.96 L426.45,217.97 L426.46,216.99 L426.48,216.00 L426.49,215.02 L426.51,214.03 L426.52,213.05 L426.53,212.06 L426.54,211.08 L426.55,210.09 L426.56,209.11 L426.57,208.12 L426.58,207.14 L426.59,206.15 L426.60,205.17 L426.61,204.18 L426.61,203.20 L426.62,202.21 L426.63,201.23 L426.64,200.24 L426.64,199.26 L426.65,198.27 L426.66,197.29 L426.67,196.31 L426.67,195.32 L426.68,194.34 L426.68,193.36 L426.69,192.37 L426.70,191.39 L426.70,190.41 L426.71,189.42 L426.71,188.44 L426.72,187.46 L426.72,186.47 L426.73,185.49 L426.73,184.51 L426.74,183.52 L426.74,182.54 L426.75,181.56 L426.75,180.58 L426.76,179.59 L426.76,178.61 L426.76,177.63 L426.77,176.65 L426.77,175.67 L426.77,174.68 L426.78,173.70 L426.78,172.72 L426.78,171.74 L426.78,170.76 L426.79,169.78 L426.79,168.80 L426.79,167.81 L426.79,166.83 L426.79,165.85 L426.79,164.87 L426.80,163.89 L426.80,162.91 L426.80,161.93 L426.80,160.95 L426.80,159.97 L426.80,158.98 L426.80,158.00 L426.80,157.02 L426.80,156.04 L426.80,155.06 L426.80,154.08 L426.80,153.10 L426.80,152.12 L426.80,151.14 L426.80,150.16 L426.80,149.18 L426.79,148.20 L426.79,147.22 L426.79,146.24 L426.79,145.26 L426.79,144.28 L426.79,143.30 L426.78,142.32 L426.78,141.34 L426.78,140.36 L426.78,139.38 L426.77,138.40 L426.77,137.42 L426.77,136.44 L426.76,135.46 L426.76,134.48 L426.76,133.50 L426.75,132.52 L426.75,131.54 L426.74,130.56 L426.74,129.58 L426.74,128.60 L426.73,127.62 L426.73,126.65 L426.72,125.67 L426.72,124.69 L426.71,123.71 L426.71,122.73 L426.70,121.75 L426.70,120.77 L426.69,119.79 L426.68,118.81 L426.68,117.83 L426.67,116.85 L426.67,115.87 L426.66,114.89 L426.65,113.91 L426.64,112.93 L426.64,111.95 L426.63,110.98 L426.62,110.00 L426.62,109.02 L426.61,108.04 L426.60,107.06 L426.59,106.08 L426.58,105.10 L426.58,104.12 L426.57,103.14 L426.56,102.16 L426.55,101.18 L426.54,100.20 L426.53,99.22 L426.52,98.24 L426.52,97.26 L426.51,96.28 L426.50,95.31 L426.49,94.33 L426.48,93.35 L426.47,92.37 L426.46,91.39 L426.45,90.41 L426.44,89.43 L426.43,88.45 L426.41,87.47 L426.40,86.49 L426.39,85.51 L426.38,84.53 L426.37,83.55 L426.36,82.57 L426.35,81.59 L426.34,80.61 L426.32,79.63 L426.31,78.65 L426.30,77.67 L426.29,76.69 L426.28,75.71 L426.26,74.73 L426.25,73.75 L426.24,72.77 L426.22,71.79 L426.21,70.81 L426.20,69.83 L426.18,68.85 L426.17,67.87 L426.16,66.89 L426.14,65.91 L426.13,64.92 L426.12,63.94 L426.10,62.96 L426.09,61.98 L426.07,61.00 L426.06,60.02 L426.04,59.04 L426.03,58.06 L426.01,57.08 L426.00,56.10 L425.98,55.11 L425.97,54.13 L425.95,53.15 L425.94,52.17 L425.92,51.19 L425.90,50.21 L425.89,49.22 L425.87,48.24 L425.85,47.26 L425.84,46.28 L425.82,45.30 L425.80,44.31 L425.79,43.33 L425.77,42.35 L425.75,41.37 L425.74,40.38 L425.72,39.40 L425.70,38.42 L425.68,37.44 L425.67,36.45 L425.65,35.47 L425.63,34.49 L425.61,33.50 L425.59,32.52 L425.57,31.54 L425.55,30.55 L425.54,29.57 L425.52,28.59 L425.50,27.60 L425.48,26.62 L425.46,25.63 L425.44,24.65 L425.42,23.67 L425.40,22.68 L425.38,21.70 L425.36,20.71 L425.34,19.73 L425.32,18.74 L425.30,17.76 L425.28,16.77 L425.26,15.79 L425.24,14.80 L425.22,13.82 L425.20,12.83 L425.17,11.84 L425.15,10.86 L425.13,9.87 L425.11,8.89 L425.09,7.90 L425.07,6.91 L425.05,5.93 L425.02,4.94 L425.00,3.95 L424.98,2.97" fill="none" stroke="#ff5533" stroke-width="1.95" stroke-linejoin="round" stroke-linecap="butt" clip-path="url(#cr)"/>
<path d="M354.36,347.09 L355.15,346.97 L355.95,346.86 L356.74,346.74 L357.54,346.62 L358.34,346.50 L359.14,346.38 L359.94,346.26 L360.74,346.14 L361.54,346.02 L362.35,345.89 L363.15,345.77 L363.96,345.64 L364.76,345.52 L365.57,345.39 L366.38,345.26 L367.19,345.13 L367.99,345.00 L368.80,344.87 L369.62,344.73 L370.43,344.60 L371.24,344.46 L372.05,344.33 L372.86,344.19 L373.68,344.05 L374.49,343.91 L375.31,343.77 L376.12,343.62 L376.94,343.48 L377.76,343.33 L378.57,343.18 L379.39,343.04 L380.21,342.88 L381.02,342.73 L381.84,342.58 L382.66,342.42 L383.48,342.27 L384.30,342.11 L385.11,341.95 L385.93,341.79 L386.75,341.62 L387.57,341.46 L388.39,341.29 L389.21,341.13 L390.03,340.96 L390.85,340.78 L391.67,340.61 L392.49,340.43 L393.30,340.26 L394.12,340.08 L394.94,339.90 L395.76,339.71 L396.58,339.53 L397.39,339.34 L398.21,339.15 L399.03,338.96 L399.85,338.77 L400.66,338.57 L401.48,338.38 L402.29,338.18 L403.11,337.98 L403.92,337.77 L404.74,337.57 L405.55,337.36 L406.36,337.15 L407.18,336.93 L407.99,336.72 L408.80,336.50 L409.61,336.28 L410.42,336.06 L411.23,335.84 L412.03,335.61 L412.84,335.38 L413.65,335.15 L414.45,334.91 L415.26,334.68 L416.06,334.44 L416.86,334.20 L417.67,333.95 L418.47,333.71 L419.27,333.46 L420.07,333.20 L420.86,332.95 L421.66,332.69 L422.46,332.43 L423.25,332.17 L424.04,331.90 L424.83,331.63 L425.62,331.36 L426.41,331.09 L427.20,330.81 L427.99,330.53 L428.77,330.25 L429.56,329.96 L430.34,329.67 L431.12,329.38 L431.90,329.09 L432.68,328.79 L433.45,328.49 L434.23,328.18 L435.00,327.88 L435.77,327.57 L436.54,327.25 L437.31,326.94 L438.08,326.62 L438.84,326.29 L439.61,325.97 L440.37,325.64 L441.13,325.30 L441.89,324.97 L442.64,324.63 L443.40,324.29 L444.15,323.94 L444.90,323.59 L445.64,323.24 L446.39,322.88 L447.13,322.52 L447.88,322.16 L448.62,321.79 L449.35,321.42 L450.09,321.04 L450.82,320.67 L451.55,320.28 L452.28,319.90 L453.01,319.51 L453.73,319.12 L454.45,318.72 L455.17,318.32 L455.89,317.92 L456.61,317.51 L457.32,317.10 L458.03,316.68 L458.73,316.26 L459.44,315.84 L460.14,315.41 L460.84,314.98 L461.54,314.54 L462.23,314.10 L462.92,313.66 L463.61,313.21 L464.30,312.76 L464.98,312.31 L465.66,311.85 L466.34,311.38 L467.02,310.92 L467.69,310.44 L468.36,309.97 L469.02,309.49 L469.69,309.00 L470.35,308.51 L471.01,308.02 L471.66,307.52 L472.31,307.02 L472.96,306.51 L473.60,306.00 L474.25,305.49 L474.88,304.97 L475.52,304.44 L476.15,303.91 L476.78,303.38 L477.41,302.84 L478.03,302.30 L478.65,301.75 L479.26,301.20 L479.88,300.64 L480.49,300.08 L481.09,299.52 L481.69,298.95 L482.29,298.37 L482.89,297.79 L483.48,297.21 L484.06,296.62 L484.65,296.02 L485.23,295.42 L485.81,294.82 L486.38,294.21 L486.95,293.59 L487.51,292.98 L488.07,292.35 L488.63,291.72 L489.19,291.09 L489.74,290.45 L490.28,289.80 L490.82,289.15 L491.36,288.50 L491.90,287.84 L492.43,287.18 L492.95,286.51 L493.48,285.83 L493.99,285.15 L494.51,284.46 L495.02,283.77 L495.52,283.08 L496.02,282.37 L496.52,281.67 L497.01,280.95 L497.50,280.24 L497.98,279.51 L498.46,278.78 L498.94,278.05 L498.71,278.28 L498.72,278.26 L498.73,278.24 L498.74,278.21 L498.75,278.19 L498.76,278.17 L498.77,278.15 L498.78,278.13 L498.79,278.11 L498.80,278.08 L498.81,278.06 L498.81,278.04 L498.82,278.02 L498.83,278.00 L498.84,277.98 L498.85,277.95 L498.86,277.93 L498.87,277.91 L498.88,277.89 L498.89,277.87 L498.90,277.85 L498.91,277.82 L498.92,277.80 L498.93,277.78 L498.94,277.76 L498.95,277.74 L498.96,277.72 L498.97,277.69 L498.98,277.67 L498.99,277.65 L499.00,277.63 L499.01,277.61 L499.02,277.59 L499.02,277.57 L499.03,277.54 L499.04,277.52 L499.05,277.50 L499.06,277.48 L499.07,277.46 L499.08,277.44 L499.09,277.41 L499.10,277.39 L499.11,277.37 L499.12,277.35 L499.13,277.33 L499.14,277.31 L499.15,277.28 L499.16,277.26 L499.17,277.24 L499.18,277.22 L499.19,277.20 L499.20,277.18 L499.21,277.15 L499.22,277.13 L499.23,277.11 L499.23,277.09 L499.24,277.07 L499.25,277.05 L499.26,277.03 L499.27,277.00 L499.28,276.98 L499.29,276.96 L499.30,276.94 L499.31,276.92 L499.32,276.90 L499.33,276.87 L499.34,276.85 L499.35,276.83 L499.36,276.81 L499.37,276.79 L499.38,276.77 L499.39,276.74 L499.40,276.72 L499.41,276.70 L499.42,276.68 L499.43,276.66 L499.44,276.64 L499.44,276.61 L499.45,276.59 L499.46,276.57 L499.47,276.55 L499.48,276.53 L499.49,276.51 L499.50,276.48 L499.51,276.46 L499.52,276.44 L499.53,276.42 L499.54,276.40 L499.55,276.38 L499.56,276.36 L499.57,276.33 L499.58,276.31 L499.59,276.29 L499.60,276.27 L499.61,276.25 L499.62,276.23 L499.63,276.20 L499.64,276.18 L499.65,276.16 L499.65,276.14 L499.66,276.12 L499.67,276.10 L499.68,276.07 L499.69,276.05 L499.70,276.03 L499.71,276.01 L499.72,275.99 L499.73,275.97 L499.74,275.94 L499.75,275.92 L499.76,275.90 L499.77,275.88 L499.78,275.86 L499.79,275.84 L499.80,275.82 L499.81,275.79 L499.82,275.77 L499.83,275.75 L499.84,275.73 L499.85,275.71 L499.86,275.69 L499.86,275.66 L499.87,275.64 L499.88,275.62 L499.89,275.60 L499.90,275.58 L499.91,275.56 L499.92,275.53 L499.93,275.51 L499.94,275.49 L499.95,275.47 L499.96,275.45 L499.97,275.43 L499.98,275.40 L499.99,275.38 L500.00,275.36 L500.01,275.34 L500.02,275.32 L500.03,275.30 L500.04,275.27 L500.05,275.25 L500.06,275.23 L500.07,275.21 L500.07,275.19 L500.08,275.17 L500.09,275.15 L500.10,275.12 L500.11,275.10 L500.12,275.08 L500.13,275.06 L500.14,275.04 L500.15,275.02 L500.16,274.99 L500.17,274.97 L500.18,274.95 L500.19,274.93 L500.20,274.91 L500.21,274.89 L500.22,274.86 L500.23,274.84 L500.24,274.82 L500.25,274.80 L500.26,274.78 L500.27,274.76 L500.28,274.73 L500.28,274.71 L500.29,274.69 L500.30,274.67 L500.31,274.65 L500.32,274.63 L500.33,274.61 L500.34,274.58 L500.35,274.56 L500.36,274.54 L500.37,274.52 L500.38,274.50 L500.39,274.48 L500.40,274.45 L500.41,274.43 L500.42,274.41 L500.43,274.39 L500.44,274.37 L500.45,274.35 L500.46,274.32 L500.47,274.30 L500.48,274.28 L500.49,274.26 L500.49,274.24 L500.50,274.22 L500.51,274.19 L500.52,274.17 L500.53,274.15 L500.54,274.13 L500.55,274.11 L500.56,274.09 L500.57,274.06 L500.58,274.04 L500.59,274.02 L500.60,274.00 L500.62,273.98 L500.64,273.96 L500.65,273.93 L500.67,273.91 L500.69,273.89 L500.71,273.87 L500.72,273.85 L500.74,273.82 L500.76,273.80 L500.78,273.78 L500.79,273.76 L500.81,273.73 L500.83,273.71 L500.85,273.69 L500.86,273.67 L500.88,273.65 L500.90,273.62 L500.92,273.60 L500.93,273.58 L500.95,273.56 L500.97,273.54 L500.99,273.51 L501.00,273.49 L501.02,273.47 L501.04,273.45 L501.06,273.43 L501.07,273.40 L501.09,273.38 L501.11,273.36 L501.13,273.34 L501.15,273.31 L501.16,273.29 L501.18,273.27 L501.20,273.25 L501.22,273.23 L501.23,273.20 L501.25,273.18 L501.27,273.16 L501.29,273.14 L501.30,273.12 L501.32,273.09 L501.34,273.07 L501.36,273.05 L501.37,273.03 L501.39,273.01 L501.41,272.98 L501.43,272.96 L501.44,272.94 L501.46,272.92 L501.48,272.89 L501.50,272.87 L501.51,272.85 L501.53,272.83 L501.55,272.81 L501.57,272.78 L501.58,272.76 L501.60,272.74 L501.62,272.72 L501.64,272.70 L501.66,272.67 L501.67,272.65 L501.69,272.63 L501.71,272.61 L501.73,272.58 L501.74,272.56 L501.76,272.54 L501.78,272.52 L501.80,272.50 L501.81,272.47 L501.83,272.45 L501.85,272.43 L501.87,272.41 L501.88,272.39 L501.90,272.36 L501.92,272.34 L501.94,272.32 L501.95,272.30 L501.97,272.28 L501.99,272.25 L502.01,272.23 L502.02,272.21 L502.04,272.19 L502.06,272.16 L502.08,272.14 L502.09,272.12 L502.11,272.10 L502.13,272.08 L502.15,272.05 L502.17,272.03 L502.18,272.01 L502.20,271.99 L502.22,271.97 L502.24,271.94 L502.25,271.92 L502.27,271.90 L502.29,271.88 L502.31,271.86 L502.32,271.83 L502.34,271.81 L502.36,271.79 L502.38,271.77 L502.39,271.74 L502.41,271.72 L502.43,271.70 L502.45,271.68 L502.46,271.66 L502.48,271.63 L502.50,271.61 L502.52,271.59 L502.53,271.57 L502.55,271.55 L502.57,271.52 L502.59,271.50 L502.61,271.48 L502.62,271.46 L502.64,271.44 L502.66,271.41 L502.68,271.39 L502.69,271.37 L502.71,271.35 L502.73,271.32 L502.75,271.30 L502.76,271.28 L502.78,271.26 L502.80,271.24 L502.82,271.21 L502.83,271.19 L502.85,271.17 L502.87,271.15 L502.89,271.13 L502.90,271.10 L502.92,271.08 L502.94,271.06 L502.96,271.04 L502.97,271.02 L502.99,270.99 L503.01,270.97 L503.03,270.95 L503.04,270.93 L503.06,270.90 L503.08,270.88 L503.10,270.86 L503.12,270.84 L503.13,270.82 L503.15,270.79 L503.17,270.77 L503.19,270.75 L503.20,270.73 L503.22,270.71 L503.24,270.68 L503.26,270.66 L503.27,270.64 L503.29,270.62 L503.31,270.59 L503.33,270.57 L503.34,270.55 L503.36,270.53 L503.38,270.51 L503.40,270.48 L503.41,270.46 L503.43,270.44 L503.45,270.42 L503.47,270.40 L503.48,270.37 L503.50,270.35 L503.52,270.33 L503.54,270.31 L503.55,270.29 L503.57,270.26 L503.59,270.24 L503.61,270.22 L503.63,270.20 L503.64,270.17 L503.66,270.15 L503.68,270.13 L503.70,270.11 L503.71,270.09 L503.73,270.06 L503.75,270.04 L503.77,270.02 L503.78,270.00 L503.80,269.98 L503.82,269.95 L503.84,269.93 L503.85,269.91 L503.87,269.89 L503.89,269.87 L503.91,269.84 L503.92,269.82 L503.94,269.80 L503.96,269.78 L503.98,269.75 L503.99,269.73 L504.01,269.71 L504.03,269.69 L504.05,269.67 L504.06,269.64 L504.08,269.62 L504.10,269.60 L504.79,268.39 L505.28,267.12 L505.75,265.84 L506.22,264.56 L506.68,263.28 L507.13,262.00 L507.57,260.71 L508.00,259.43 L508.42,258.14 L508.84,256.85 L509.25,255.56 L509.65,254.26 L510.05,252.97 L510.43,251.67 L510.81,250.37 L511.18,249.07 L511.55,247.77 L511.91,246.46 L512.26,245.16 L512.60,243.85 L512.94,242.54 L513.27,241.23 L513.60,239.92 L513.92,238.61 L514.23,237.30 L514.54,235.98 L514.84,234.66 L515.13,233.35 L515.42,232.03 L515.71,230.71 L515.99,229.39 L516.26,228.06 L516.53,226.74 L516.80,225.41 L517.06,224.09 L517.31,222.76 L517.56,221.43 L517.81,220.10 L518.05,218.77 L518.29,217.44 L518.52,216.11 L518.75,214.78 L518.98,213.45 L519.20,212.11 L519.42,210.78 L519.63,209.44 L519.84,208.11 L520.05,206.77 L520.26,205.43 L520.46,204.09 L520.66,202.76 L520.86,201.42 L521.06,200.08 L521.25,198.74 L521.44,197.40 L521.63,196.06 L521.81,194.71 L522.00,193.37 L522.18,192.03 L522.36,190.69 L522.54,189.34 L522.72,188.00 L522.90,186.66 L523.07,185.31 L523.25,183.97 L523.42,182.63 L523.59,181.28 L523.76,179.94 L523.93,178.59 L524.10,177.25 L524.26,175.90 L524.43,174.56 L524.59,173.21 L524.75,171.87 L524.91,170.52 L525.07,169.17 L525.23,167.83 L525.39,166.48 L525.54,165.13 L525.70,163.79 L525.85,162.44 L526.00,161.09 L526.16,159.74 L526.31,158.40 L526.45,157.05 L526.60,155.70 L526.75,154.35 L526.89,153.00 L527.04,151.65 L527.18,150.30 L527.32,148.95 L527.47,147.61 L527.61,146.26 L527.75,144.91 L527.88,143.56 L528.02,142.21 L528.16,140.86 L528.29,139.51 L528.43,138.16 L528.56,136.81 L528.69,135.46 L528.83,134.10 L528.96,132.75 L529.09,131.40 L529.22,130.05 L529.34,128.70 L529.47,127.35 L529.60,126.00 L529.72,124.65 L529.85,123.29 L529.97,121.94 L530.10,120.59 L530.22,119.24 L530.34,117.89 L530.46,116.54 L530.59,115.18 L530.71,113.83 L530.82,112.48 L530.94,111.13 L531.06,109.77 L531.18,108.42 L531.30,107.07 L531.41,105.72 L531.53,104.36 L531.64,103.01 L531.76,101.66 L531.87,100.31 L531.98,98.95 L532.10,97.60 L532.21,96.25 L532.32,94.89 L532.43,93.54 L532.54,92.19 L532.65,90.84 L532.76,89.48 L532.87,88.13 L532.98,86.78 L533.09,85.42 L533.20,84.07 L533.31,82.72 L533.41,81.37 L533.52,80.01 L533.63,78.66 L533.73,77.31 L533.84,75.95 L533.95,74.60 L534.05,73.25 L534.16,71.90 L534.26,70.54 L534.37,69.19 L534.47,67.84 L534.58,66.48 L534.68,65.13 L534.79,63.78 L534.89,62.43 L534.99,61.07 L535.10,59.72 L535.20,58.37 L535.30,57.02 L535.41,55.67 L535.51,54.31 L535.61,52.96 L535.72,51.61 L535.82,50.26 L535.92,48.91 L536.02,47.56 L536.13,46.20 L536.23,44.85 L536.33,43.50 L536.44,42.15 L536.54,40.80 L536.64,39.45 L536.75,38.10 L536.85,36.75 L536.95,35.40 L537.06,34.05 L537.16,32.70 L537.26,31.35 L537.37,30.00 L537.47,28.65 L537.57,27.30 L537.68,25.95 L537.78,24.60 L537.89,23.25 L537.99,21.90 L538.10,20.55 L538.20,19.20 L538.31,17.85 L538.42,16.50 L538.52,15.16 L538.63,13.81 L538.74,12.46 L538.84,11.11 L538.95,9.76 L539.06,8.42 L539.17,7.07 L539.28,5.72 L539.39,4.38 L539.50,3.03" fill="none" stroke="#0000ff" stroke-width="1.95" stroke-linejoin="round" stroke-linecap="butt" clip-path="url(#cr)"/>
<path d="M325.43,340.49 L326.38,340.35 L327.33,340.20 L328.28,340.04 L329.23,339.88 L330.17,339.70 L331.12,339.51 L332.06,339.31 L333.00,339.11 L333.94,338.89 L334.87,338.67 L335.81,338.43 L336.74,338.19 L337.67,337.94 L338.59,337.67 L339.52,337.40 L340.44,337.12 L341.35,336.83 L342.27,336.53 L343.18,336.23 L344.09,335.91 L345.00,335.58 L345.90,335.25 L346.80,334.91 L347.69,334.55 L348.58,334.19 L349.47,333.82 L350.35,333.45 L351.23,333.06 L352.11,332.66 L352.98,332.26 L353.85,331.85 L354.71,331.42 L355.57,330.99 L356.42,330.56 L357.27,330.11 L358.11,329.65 L358.95,329.19 L359.78,328.72 L360.61,328.24 L361.43,327.75 L362.25,327.26 L363.06,326.75 L363.87,326.24 L364.67,325.72 L365.47,325.19 L366.26,324.66 L367.04,324.11 L367.82,323.56 L368.59,323.00 L369.35,322.44 L370.11,321.86 L370.86,321.28 L371.61,320.69 L372.34,320.09 L373.07,319.49 L373.80,318.87 L374.52,318.25 L375.23,317.63 L375.93,316.99 L376.62,316.35 L377.31,315.70 L377.99,315.05 L378.67,314.38 L379.34,313.71 L380.00,313.04 L380.65,312.35 L381.29,311.66 L381.93,310.97 L382.56,310.27 L383.19,309.56 L383.80,308.84 L384.41,308.12 L385.01,307.39 L385.61,306.66 L386.19,305.92 L386.77,305.17 L387.34,304.42 L387.91,303.67 L388.46,302.90 L389.01,302.13 L389.56,301.36 L390.09,300.58 L390.62,299.80 L391.13,299.01 L391.65,298.22 L392.15,297.42 L392.64,296.61 L393.13,295.80 L393.61,294.99 L394.09,294.17 L394.55,293.35 L395.01,292.52 L395.46,291.69 L395.90,290.85 L396.33,290.01 L396.76,289.17 L397.18,288.32 L397.59,287.47 L397.99,286.61 L398.38,285.75 L398.77,284.88 L399.15,284.02 L399.52,283.15 L399.89,282.27 L400.25,281.39 L400.60,280.51 L400.95,279.63 L401.29,278.74 L401.62,277.85 L401.95,276.96 L402.27,276.06 L402.58,275.17 L402.89,274.27 L403.19,273.36 L403.49,272.46 L403.78,271.55 L404.06,270.64 L404.34,269.73 L404.61,268.81 L404.88,267.90 L405.14,266.98 L405.40,266.06 L405.65,265.14 L405.90,264.22 L406.14,263.30 L406.38,262.37 L406.62,261.45 L406.85,260.52 L407.07,259.60 L407.29,258.67 L407.51,257.74 L407.72,256.81 L407.93,255.88 L408.14,254.95 L408.34,254.01 L408.53,253.08 L408.73,252.15 L408.91,251.21 L409.10,250.28 L409.28,249.34 L409.46,248.41 L409.63,247.47 L409.81,246.53 L409.97,245.59 L410.14,244.65 L410.30,243.71 L410.46,242.77 L410.61,241.83 L410.76,240.89 L410.91,239.95 L411.06,239.01 L411.20,238.06 L411.34,237.12 L411.47,236.18 L411.61,235.23 L411.74,234.29 L411.87,233.34 L411.99,232.40 L412.11,231.45 L412.24,230.50 L412.35,229.56 L412.47,228.61 L412.58,227.66 L412.69,226.71 L412.80,225.76 L412.91,224.82 L413.01,223.87 L413.11,222.92 L413.21,221.97 L413.31,221.02 L413.41,220.07 L413.50,219.12 L413.59,218.17 L413.68,217.21 L413.77,216.26 L413.86,215.31 L413.94,214.36 L414.03,213.41 L414.11,212.46 L414.19,211.50 L414.27,210.55 L414.35,209.60 L414.43,208.65 L414.50,207.69 L414.58,206.74 L414.65,205.79 L414.72,204.84 L414.79,203.88 L414.86,202.93 L414.93,201.98 L415.00,201.02 L415.07,200.07 L415.14,199.12 L415.20,198.17 L415.27,197.21 L415.34,196.26 L415.40,195.31 L415.46,194.36 L415.53,193.40 L415.59,192.45 L415.65,191.50 L415.71,190.55 L415.78,189.59 L415.84,188.64 L415.90,187.69 L415.95,186.74 L416.01,185.79 L416.07,184.83 L416.13,183.88 L416.19,182.93 L416.24,181.98 L416.30,181.03 L416.35,180.07 L416.41,179.12 L416.46,178.17 L416.51,177.22 L416.57,176.27 L416.62,175.31 L416.67,174.36 L416.72,173.41 L416.77,172.46 L416.82,171.51 L416.87,170.56 L416.92,169.61 L416.97,168.65 L417.02,167.70 L417.06,166.75 L417.11,165.80 L417.16,164.85 L417.20,163.90 L417.25,162.95 L417.29,161.99 L417.34,161.04 L417.38,160.09 L417.43,159.14 L417.47,158.19 L417.51,157.24 L417.55,156.29 L417.59,155.34 L417.63,154.39 L417.68,153.43 L417.72,152.48 L417.75,151.53 L417.79,150.58 L417.83,149.63 L417.87,148.68 L417.91,147.73 L417.95,146.78 L417.98,145.83 L418.02,144.88 L418.06,143.92 L418.09,142.97 L418.13,142.02 L418.16,141.07 L418.19,140.12 L418.23,139.17 L418.26,138.22 L418.30,137.27 L418.33,136.32 L418.36,135.37 L418.39,134.42 L418.42,133.47 L418.46,132.52 L418.49,131.56 L418.52,130.61 L418.55,129.66 L418.58,128.71 L418.61,127.76 L418.63,126.81 L418.66,125.86 L418.69,124.91 L418.72,123.96 L418.75,123.01 L418.77,122.06 L418.80,121.11 L418.83,120.16 L418.85,119.20 L418.88,118.25 L418.91,117.30 L418.93,116.35 L418.96,115.40 L418.98,114.45 L419.00,113.50 L419.03,112.55 L419.05,111.60 L419.08,110.65 L419.10,109.70 L419.12,108.75 L419.14,107.80 L419.17,106.84 L419.19,105.89 L419.21,104.94 L419.23,103.99 L419.25,103.04 L419.27,102.09 L419.29,101.14 L419.32,100.19 L419.34,99.24 L419.36,98.29 L419.38,97.33 L419.39,96.38 L419.41,95.43 L419.43,94.48 L419.45,93.53 L419.47,92.58 L419.49,91.63 L419.51,90.68 L419.53,89.73 L419.54,88.77 L419.56,87.82 L419.58,86.87 L419.60,85.92 L419.61,84.97 L419.63,84.02 L419.65,83.07 L419.66,82.12 L419.68,81.16 L419.69,80.21 L419.71,79.26 L419.73,78.31 L419.74,77.36 L419.76,76.41 L419.77,75.45 L419.79,74.50 L419.80,73.55 L419.82,72.60 L419.83,71.65 L419.85,70.70 L419.86,69.74 L419.88,68.79 L419.89,67.84 L419.90,66.89 L419.92,65.94 L419.93,64.98 L419.95,64.03 L419.96,63.08 L419.97,62.13 L419.99,61.18 L420.00,60.22 L420.01,59.27 L420.03,58.32 L420.04,57.37 L420.05,56.41 L420.07,55.46 L420.08,54.51 L420.09,53.56 L420.11,52.60 L420.12,51.65 L420.13,50.70 L420.14,49.74 L420.16,48.79 L420.17,47.84 L420.18,46.89 L420.20,45.93 L420.21,44.98 L420.22,44.03 L420.23,43.07 L420.25,42.12 L420.26,41.17 L420.27,40.21 L420.28,39.26 L420.30,38.31 L420.31,37.35 L420.32,36.40 L420.33,35.45 L420.35,34.49 L420.36,33.54 L420.37,32.58 L420.38,31.63 L420.40,30.68 L420.41,29.72 L420.42,28.77 L420.43,27.81 L420.45,26.86 L420.46,25.91 L420.47,24.95 L420.49,24.00 L420.50,23.04 L420.51,22.09 L420.53,21.13 L420.54,20.18 L420.55,19.22 L420.57,18.27 L420.58,17.31 L420.59,16.36 L420.61,15.40 L420.62,14.45 L420.63,13.49 L420.65,12.54 L420.66,11.58 L420.68,10.63 L420.69,9.67 L420.71,8.71 L420.72,7.76 L420.74,6.80 L420.75,5.85 L420.77,4.89 L420.78,3.93 L420.80,2.98" fill="none" stroke="#ffa500" stroke-width="1.95" stroke-linejoin="round" stroke-linecap="butt" clip-path="url(#cr)"/>
<rect x="56.72" y="4.7" width="224.03" height="359.55" fill="none" stroke="#000" stroke-width="1.15" stroke-linejoin="miter"/>
<rect x="325.5" y="4.7" width="223.95" height="359.55" fill="none" stroke="#000" stroke-width="1.15" stroke-linejoin="miter"/>
<line x1="52.12" y1="364.25" x2="56.72" y2="364.25" stroke="#000" stroke-width="1.15"/>
<text x="47.02" y="368.85" text-anchor="end" font-size="13.9" textLength="26.9" lengthAdjust="spacingAndGlyphs" style="font-family:&quot;Liberation Serif&quot;,serif">0.00</text>
<line x1="320.90" y1="364.25" x2="325.5" y2="364.25" stroke="#000" stroke-width="1.15"/>
<text x="315.80" y="368.85" text-anchor="end" font-size="13.9" textLength="26.9" lengthAdjust="spacingAndGlyphs" style="font-family:&quot;Liberation Serif&quot;,serif">0.00</text>
<line x1="52.12" y1="304.32" x2="56.72" y2="304.32" stroke="#000" stroke-width="1.15"/>
<text x="47.02" y="308.93" text-anchor="end" font-size="13.9" textLength="26.9" lengthAdjust="spacingAndGlyphs" style="font-family:&quot;Liberation Serif&quot;,serif">0.01</text>
<line x1="320.90" y1="304.32" x2="325.5" y2="304.32" stroke="#000" stroke-width="1.15"/>
<text x="315.80" y="308.93" text-anchor="end" font-size="13.9" textLength="26.9" lengthAdjust="spacingAndGlyphs" style="font-family:&quot;Liberation Serif&quot;,serif">0.01</text>
<line x1="52.12" y1="244.40" x2="56.72" y2="244.40" stroke="#000" stroke-width="1.15"/>
<text x="47.02" y="249.00" text-anchor="end" font-size="13.9" textLength="26.9" lengthAdjust="spacingAndGlyphs" style="font-family:&quot;Liberation Serif&quot;,serif">0.02</text>
<line x1="320.90" y1="244.40" x2="325.5" y2="244.40" stroke="#000" stroke-width="1.15"/>
<text x="315.80" y="249.00" text-anchor="end" font-size="13.9" textLength="26.9" lengthAdjust="spacingAndGlyphs" style="font-family:&quot;Liberation Serif&quot;,serif">0.02</text>
<line x1="52.12" y1="184.47" x2="56.72" y2="184.47" stroke="#000" stroke-width="1.15"/>
<text x="47.02" y="189.07" text-anchor="end" font-size="13.9" textLength="26.9" lengthAdjust="spacingAndGlyphs" style="font-family:&quot;Liberation Serif&quot;,serif">0.03</text>
<line x1="320.90" y1="184.47" x2="325.5" y2="184.47" stroke="#000" stroke-width="1.15"/>
<text x="315.80" y="189.07" text-anchor="end" font-size="13.9" textLength="26.9" lengthAdjust="spacingAndGlyphs" style="font-family:&quot;Liberation Serif&quot;,serif">0.03</text>
<line x1="52.12" y1="124.55" x2="56.72" y2="124.55" stroke="#000" stroke-width="1.15"/>
<text x="47.02" y="129.15" text-anchor="end" font-size="13.9" textLength="26.9" lengthAdjust="spacingAndGlyphs" style="font-family:&quot;Liberation Serif&quot;,serif">0.04</text>
<line x1="320.90" y1="124.55" x2="325.5" y2="124.55" stroke="#000" stroke-width="1.15"/>
<text x="315.80" y="129.15" text-anchor="end" font-size="13.9" textLength="26.9" lengthAdjust="spacingAndGlyphs" style="font-family:&quot;Liberation Serif&quot;,serif">0.04</text>
<line x1="52.12" y1="64.62" x2="56.72" y2="64.62" stroke="#000" stroke-width="1.15"/>
<text x="47.02" y="69.22" text-anchor="end" font-size="13.9" textLength="26.9" lengthAdjust="spacingAndGlyphs" style="font-family:&quot;Liberation Serif&quot;,serif">0.05</text>
<line x1="320.90" y1="64.62" x2="325.5" y2="64.62" stroke="#000" stroke-width="1.15"/>
<text x="315.80" y="69.22" text-anchor="end" font-size="13.9" textLength="26.9" lengthAdjust="spacingAndGlyphs" style="font-family:&quot;Liberation Serif&quot;,serif">0.05</text>
<line x1="52.12" y1="4.70" x2="56.72" y2="4.70" stroke="#000" stroke-width="1.15"/>
<text x="47.02" y="9.30" text-anchor="end" font-size="13.9" textLength="26.9" lengthAdjust="spacingAndGlyphs" style="font-family:&quot;Liberation Serif&quot;,serif">0.06</text>
<line x1="320.90" y1="4.70" x2="325.5" y2="4.70" stroke="#000" stroke-width="1.15"/>
<text x="315.80" y="9.30" text-anchor="end" font-size="13.9" textLength="26.9" lengthAdjust="spacingAndGlyphs" style="font-family:&quot;Liberation Serif&quot;,serif">0.06</text>
<line x1="56.72" y1="364.25" x2="56.72" y2="368.85" stroke="#000" stroke-width="1.15"/>
<text x="56.72" y="382.6" text-anchor="middle" font-size="13.9" textLength="20.0" lengthAdjust="spacingAndGlyphs" style="font-family:&quot;Liberation Serif&quot;,serif">1.0</text>
<line x1="131.40" y1="364.25" x2="131.40" y2="368.85" stroke="#000" stroke-width="1.15"/>
<text x="131.40" y="382.6" text-anchor="middle" font-size="13.9" textLength="20.0" lengthAdjust="spacingAndGlyphs" style="font-family:&quot;Liberation Serif&quot;,serif">1.5</text>
<line x1="206.07" y1="364.25" x2="206.07" y2="368.85" stroke="#000" stroke-width="1.15"/>
<text x="206.07" y="382.6" text-anchor="middle" font-size="13.9" textLength="20.0" lengthAdjust="spacingAndGlyphs" style="font-family:&quot;Liberation Serif&quot;,serif">2.0</text>
<line x1="280.75" y1="364.25" x2="280.75" y2="368.85" stroke="#000" stroke-width="1.15"/>
<text x="280.75" y="382.6" text-anchor="middle" font-size="13.9" textLength="20.0" lengthAdjust="spacingAndGlyphs" style="font-family:&quot;Liberation Serif&quot;,serif">2.5</text>
<line x1="345.86" y1="364.25" x2="345.86" y2="368.85" stroke="#000" stroke-width="1.15"/>
<text x="345.86" y="382.6" text-anchor="middle" font-size="13.9" textLength="14.5" lengthAdjust="spacingAndGlyphs" style="font-family:&quot;Liberation Serif&quot;,serif">10</text>
<line x1="427.30" y1="364.25" x2="427.30" y2="368.85" stroke="#000" stroke-width="1.15"/>
<text x="427.30" y="382.6" text-anchor="middle" font-size="13.9" textLength="14.5" lengthAdjust="spacingAndGlyphs" style="font-family:&quot;Liberation Serif&quot;,serif">12</text>
<line x1="508.73" y1="364.25" x2="508.73" y2="368.85" stroke="#000" stroke-width="1.15"/>
<text x="508.73" y="382.6" text-anchor="middle" font-size="13.9" textLength="14.5" lengthAdjust="spacingAndGlyphs" style="font-family:&quot;Liberation Serif&quot;,serif">14</text>
<text x="392.0" y="401.9" font-size="16.2" textLength="91.0" lengthAdjust="spacingAndGlyphs" style="font-family:&quot;Liberation Serif&quot;,serif">Radius (km)</text>
<text x="129.6" y="401.9" font-size="16.2" textLength="40.0" lengthAdjust="spacingAndGlyphs" style="font-family:&quot;Liberation Serif&quot;,serif">Mass</text>
<text x="174.2" y="401.9" font-size="16.2" style="font-family:&quot;Liberation Serif&quot;,serif">(</text>
<text x="179.2" y="401.9" font-size="15.0" font-style="italic" textLength="13.2" lengthAdjust="spacingAndGlyphs" style="font-family:&quot;Liberation Sans&quot;,sans-serif">M</text>
<circle cx="197.1" cy="401.0" r="3.4" fill="none" stroke="#000" stroke-width="0.95"/>
<circle cx="197.1" cy="401.0" r="1.0" fill="#000"/>
<text x="202.4" y="401.9" font-size="16.2" style="font-family:&quot;Liberation Serif&quot;,serif">)</text>
<text transform="translate(11.4,297.0) rotate(-90)" x="0" y="0" font-size="16.6" textLength="224.1" lengthAdjust="spacingAndGlyphs" style="font-family:&quot;Liberation Serif&quot;,serif">Fractional Moment of Inertia</text>
<rect x="188.95" y="10.9" width="85.2" height="59.4" rx="3.0" ry="3.0" fill="#fff" fill-opacity="0.8" stroke="#d2d2d2" stroke-width="1.1"/>
<line x1="192.95" y1="21.30" x2="219.95" y2="21.30" stroke="#ff5533" stroke-width="1.95"/>
<text x="229.25" y="25.60" font-size="13.9" textLength="25.6" lengthAdjust="spacingAndGlyphs" style="font-family:&quot;Liberation Serif&quot;,serif">AP3</text>
<line x1="192.95" y1="39.80" x2="219.95" y2="39.80" stroke="#0000ff" stroke-width="1.95"/>
<text x="229.25" y="44.10" font-size="13.9" textLength="40.0" lengthAdjust="spacingAndGlyphs" style="font-family:&quot;Liberation Serif&quot;,serif">GNH3</text>
<line x1="192.95" y1="58.30" x2="219.95" y2="58.30" stroke="#ffa500" stroke-width="1.95"/>
<text x="229.25" y="62.60" font-size="13.9" textLength="24.5" lengthAdjust="spacingAndGlyphs" style="font-family:&quot;Liberation Serif&quot;,serif">SLy</text>
<rect x="457.95" y="10.9" width="85.2" height="59.4" rx="3.0" ry="3.0" fill="#fff" fill-opacity="0.8" stroke="#d2d2d2" stroke-width="1.1"/>
<line x1="461.95" y1="21.30" x2="488.95" y2="21.30" stroke="#ff5533" stroke-width="1.95"/>
<text x="498.25" y="25.60" font-size="13.9" textLength="25.6" lengthAdjust="spacingAndGlyphs" style="font-family:&quot;Liberation Serif&quot;,serif">AP3</text>
<line x1="461.95" y1="39.80" x2="488.95" y2="39.80" stroke="#0000ff" stroke-width="1.95"/>
<text x="498.25" y="44.10" font-size="13.9" textLength="40.0" lengthAdjust="spacingAndGlyphs" style="font-family:&quot;Liberation Serif&quot;,serif">GNH3</text>
<line x1="461.95" y1="58.30" x2="488.95" y2="58.30" stroke="#ffa500" stroke-width="1.95"/>
<text x="498.25" y="62.60" font-size="13.9" textLength="24.5" lengthAdjust="spacingAndGlyphs" style="font-family:&quot;Liberation Serif&quot;,serif">SLy</text>
</svg>
</body></html>
